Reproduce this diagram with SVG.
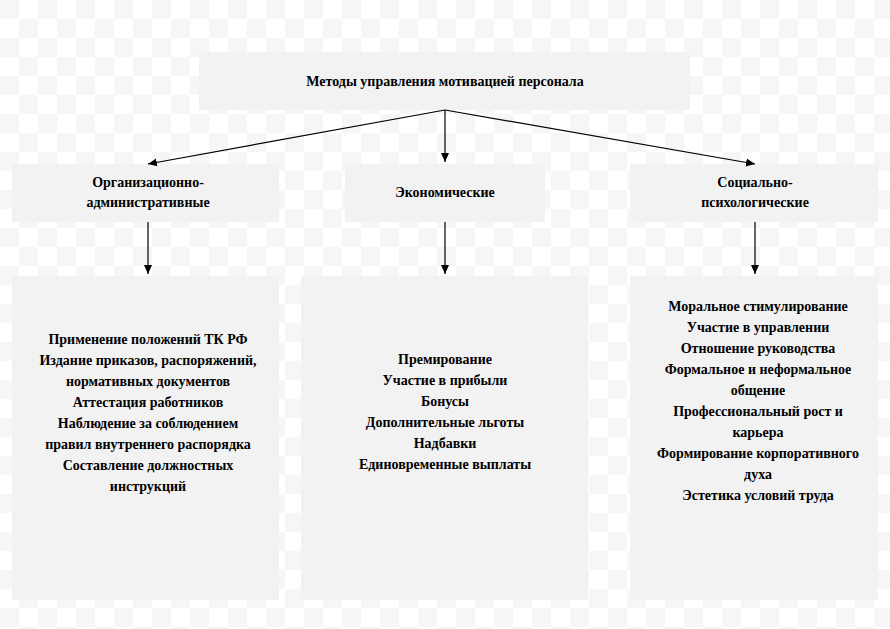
<svg xmlns="http://www.w3.org/2000/svg" width="890" height="629" viewBox="0 0 890 629">
<defs>
<pattern id="chk" width="38" height="38" patternUnits="userSpaceOnUse">
<rect width="38" height="38" fill="#ffffff"/>
<rect width="19" height="19" fill="#f6f6f6"/>
<rect x="19" y="19" width="19" height="19" fill="#f6f6f6"/>
</pattern>
<marker id="ar" markerWidth="10" markerHeight="10" refX="9" refY="5" orient="auto" markerUnits="userSpaceOnUse"><path d="M0,1 L9,5 L0,9 Z" fill="#000"/></marker>
<style>
.b{fill:#f2f2f2}
text{font-family:"Liberation Serif",serif;font-weight:bold;font-size:14px;fill:#000;text-anchor:middle}
.c line{stroke:#000;stroke-width:1.2;marker-end:url(#ar)}
</style>
</defs>
<rect width="890" height="629" fill="url(#chk)"/>
<g id="top"><rect class="b" x="199" y="52" width="491" height="58"/><text x="445" y="86">Методы управления мотивацией персонала</text></g>
<g id="org"><rect class="b" x="12" y="164" width="267" height="58"/><text x="148" y="187">Организационно-</text><text x="148" y="207">административные</text></g>
<g id="eco"><rect class="b" x="345" y="164" width="200" height="58"/><text x="445" y="197">Экономические</text></g>
<g id="soc"><rect class="b" x="630" y="164" width="248" height="58"/><text x="755" y="187">Социально-</text><text x="755" y="207">психологические</text></g>
<g id="orgL"><rect class="b" x="12" y="276" width="267" height="324"/>
<text x="148" y="344">Применение положений ТК РФ</text>
<text x="148" y="365">Издание приказов, распоряжений,</text>
<text x="148" y="386">нормативных документов</text>
<text x="148" y="407">Аттестация работников</text>
<text x="148" y="428">Наблюдение за соблюдением</text>
<text x="148" y="449">правил внутреннего распорядка</text>
<text x="148" y="470">Составление должностных</text>
<text x="148" y="491">инструкций</text></g>
<g id="ecoL"><rect class="b" x="301" y="276" width="287" height="324"/>
<text x="445" y="364">Премирование</text>
<text x="445" y="385">Участие в прибыли</text>
<text x="445" y="406">Бонусы</text>
<text x="445" y="427">Дополнительные льготы</text>
<text x="445" y="448">Надбавки</text>
<text x="445" y="469">Единовременные выплаты</text></g>
<g id="socL"><rect class="b" x="630" y="276" width="248" height="324"/>
<text x="758" y="311">Моральное стимулирование</text>
<text x="758" y="332">Участие в управлении</text>
<text x="758" y="353">Отношение руководства</text>
<text x="758" y="374">Формальное и неформальное</text>
<text x="758" y="395">общение</text>
<text x="758" y="416">Профессиональный рост и</text>
<text x="758" y="437">карьера</text>
<text x="758" y="458">Формирование корпоративного</text>
<text x="758" y="479">духа</text>
<text x="758" y="500">Эстетика условий труда</text></g>
<g class="c">
<line x1="445" y1="110" x2="148" y2="164"/>
<line x1="445" y1="110" x2="445" y2="162"/>
<line x1="445" y1="110" x2="755" y2="164"/>
<line x1="148" y1="222" x2="148" y2="274"/>
<line x1="445" y1="222" x2="445" y2="274"/>
<line x1="755" y1="222" x2="755" y2="274"/>
</g>
</svg>
